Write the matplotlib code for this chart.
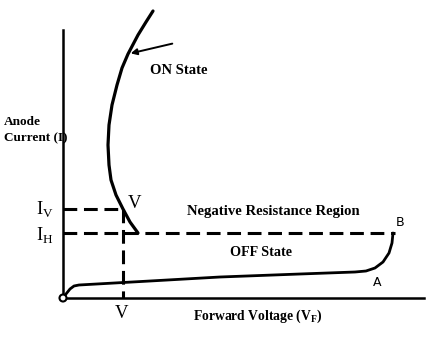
import matplotlib
matplotlib.use("Agg")
import matplotlib.pyplot as plt
from matplotlib.patches import Circle

# Diagram geometry (pixel coordinates)
on_x = [138, 130, 123, 116, 111, 109, 108, 109, 112, 117, 122, 128, 138, 146, 153]
on_y = [233, 222, 209, 195, 180, 165, 145, 125, 105, 85, 68, 54, 35, 22, 11]

off_x = [63, 66, 70, 74, 79, 150, 220, 300, 355, 366, 375, 383, 389, 392, 393]
off_y = [298, 294, 289, 286, 285, 281, 277, 274, 272, 271, 268, 262, 253, 243, 233]

origin = (63, 298)
axis_top = 30
axis_right = 424
i_h = 233
i_v = 209
v_x = 123
b_x = 395

serif = "Liberation Serif"

fig = plt.figure(figsize=(4.36, 3.37), dpi=100)
ax = fig.add_axes([0, 0, 1, 1])
ax.set_xlim(0, 436)
ax.set_ylim(337, 0)
ax.axis("off")

# axes
ax.plot([origin[0], origin[0]], [origin[1], axis_top], color="black", lw=1.8)
ax.plot([origin[0], axis_right], [origin[1], origin[1]], color="black", lw=1.8)
ax.add_patch(Circle(origin, 3.5, facecolor="white", edgecolor="black", lw=1.5, zorder=5))

# curves
ax.plot(on_x, on_y, color="black", lw=2.3, solid_capstyle="round")
ax.plot(off_x, off_y, color="black", lw=2.0, solid_capstyle="round")

# dashed lines
dash = dict(color="black", lw=2.2, linestyle=(0, (4.5, 2.2)))
ax.plot([origin[0], b_x], [i_h, i_h], **dash)
ax.plot([origin[0], v_x], [i_v, i_v], **dash)
ax.plot([v_x, v_x], [i_v, origin[1]], **dash)

# arrow
ax.annotate("", xy=(128, 54), xytext=(175, 43),
            arrowprops=dict(arrowstyle="-|>", color="black", lw=1.4, mutation_scale=9))

# text
bold = dict(family=serif, fontweight="bold", color="black")
ax.text(150, 70, "ON State", fontsize=10.5, ha="left", va="center", **bold)
ax.text(4, 130, "Anode\nCurrent (I)", fontsize=9.5, ha="left", va="center", linespacing=1.4, **bold)
ax.text(187, 211, "Negative Resistance Region", fontsize=10.6, ha="left", va="center", **bold)
ax.text(261, 253, "OFF State", fontsize=10.2, ha="center", va="center", **bold)
ax.text(193, 316, "Forward Voltage (V$_\\mathregular{F}$)", fontsize=9.8, ha="left", va="center", **bold)

reg = dict(family=serif, color="black")
ax.text(54, 210, "I$_\\mathregular{V}$", fontsize=13.5, ha="right", va="center", **reg)
ax.text(54, 236, "I$_\\mathregular{H}$", fontsize=13.5, ha="right", va="center", **reg)
ax.text(128, 203, "V", fontsize=13.5, ha="left", va="center", **reg)
ax.text(122, 313, "V", fontsize=13.5, ha="center", va="center", **reg)

ax.text(400, 222, "B", fontsize=9, ha="center", va="center", family="DejaVu Sans", color="black")
ax.text(377, 283, "A", fontsize=9, ha="center", va="center", family="DejaVu Sans", color="black")

fig.savefig("out.png", dpi=100, facecolor="white")
